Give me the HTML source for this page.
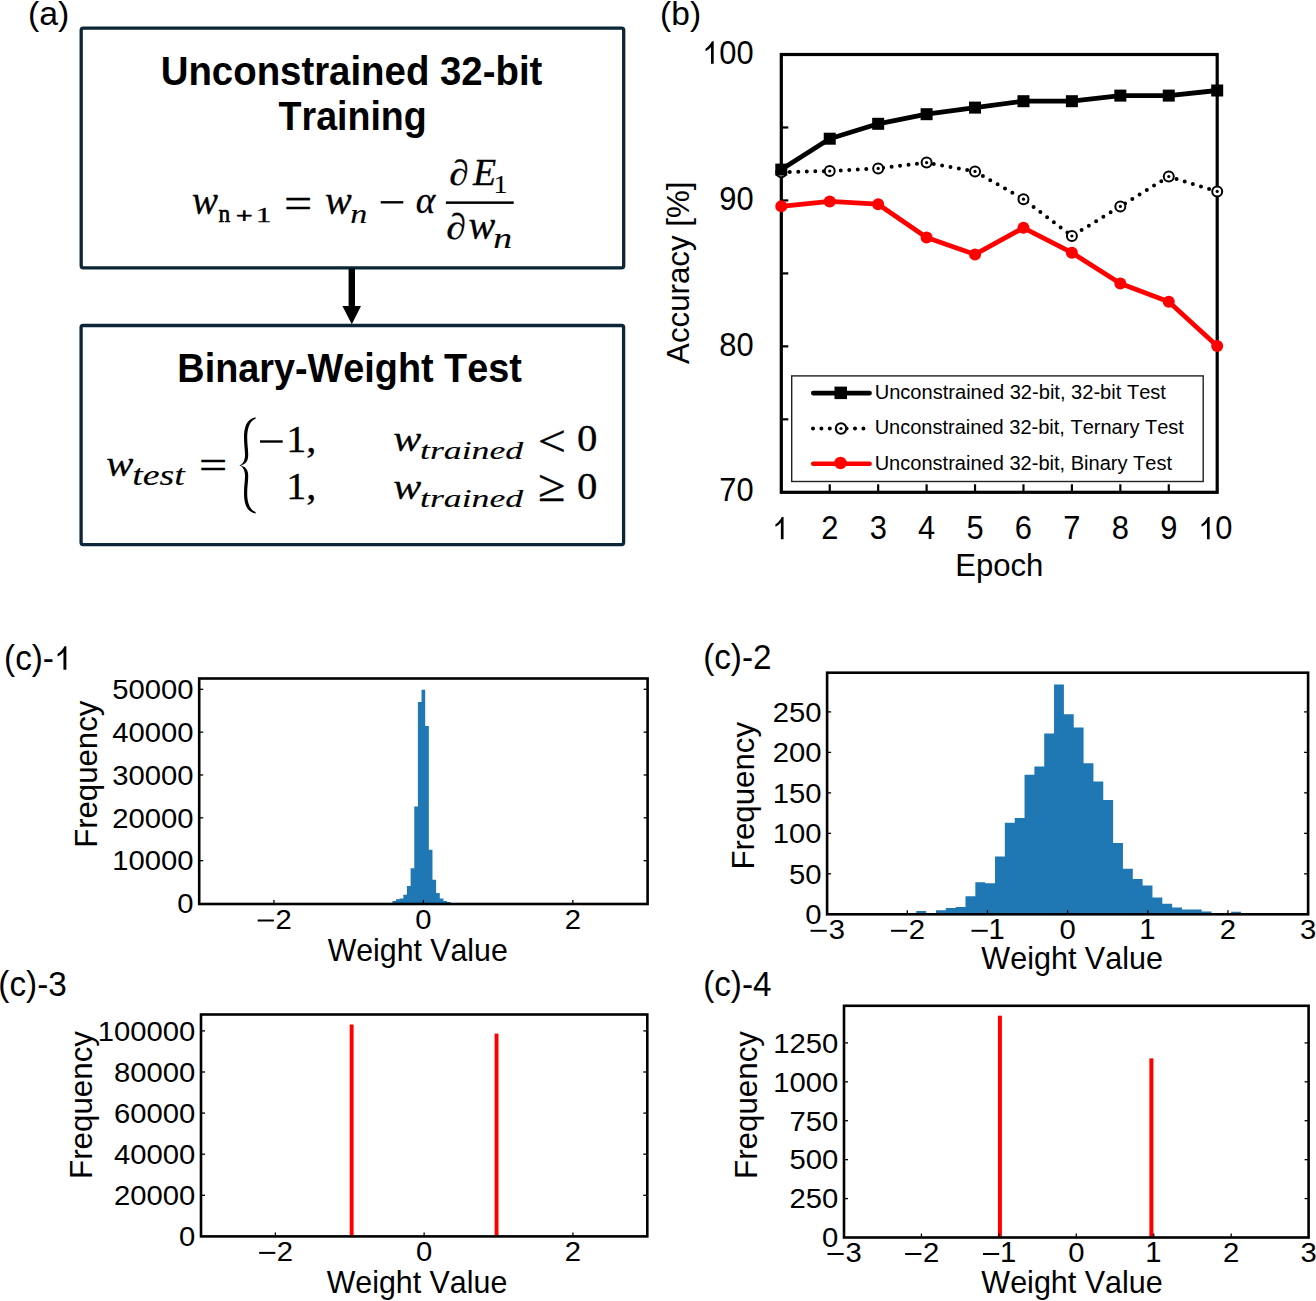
<!DOCTYPE html>
<html><head><meta charset="utf-8"><style>
html,body{margin:0;padding:0;background:#fff;}
body{width:1316px;height:1301px;overflow:hidden;}
svg{display:block;}
text{font-kerning:none;}
</style></head><body>
<svg width="1316" height="1301" viewBox="0 0 1316 1301">
<rect width="1316" height="1301" fill="#fff"/>
<text transform="matrix(0.9963 0 0 1.0000 27.90 25.10)" font-size="34.00" font-family='"Liberation Sans", sans-serif' fill="#000">(a)</text>
<rect x="81.2" y="28.2" width="542.5" height="239.6" rx="2" fill="none" stroke="#0b2636" stroke-width="3.3"/>
<text transform="matrix(0.9362 0 0 1.0000 160.69 85.00)" font-size="41.00" font-family='"Liberation Sans", sans-serif' font-weight="bold" fill="#000">Unconstrained 32-bit</text>
<text transform="matrix(0.9166 0 0 1.0000 278.58 129.80)" font-size="41.00" font-family='"Liberation Sans", sans-serif' font-weight="bold" fill="#000">Training</text>
<text transform="matrix(0.9752 0 0 0.9973 192.12 214.06)" font-size="40.00" font-family='"Liberation Serif", serif' font-style="italic" fill="#000" stroke="#000" stroke-width="0.30" stroke-linejoin="round">w</text>
<text transform="matrix(1.0628 0 0 1.1576 218.56 222.30)" font-size="22.00" font-family='"Liberation Serif", serif' fill="#000" stroke="#000" stroke-width="0.60" stroke-linejoin="round">n</text>
<text transform="matrix(1.3285 0 0 0.9563 235.94 223.09)" font-size="22.00" font-family='"Liberation Serif", serif' fill="#000" stroke="#000" stroke-width="0.80" stroke-linejoin="round">+</text>
<text transform="matrix(1.4332 0 0 0.9502 255.68 222.45)" font-size="22.00" font-family='"Liberation Serif", serif' fill="#000" stroke="#000" stroke-width="0.30" stroke-linejoin="round">1</text>
<text transform="matrix(1.2518 0 0 1.0300 284.06 216.88)" font-size="40.00" font-family='"Liberation Serif", serif' fill="#000" stroke="#000" stroke-width="0.30" stroke-linejoin="round">=</text>
<text transform="matrix(1.0028 0 0 0.9973 325.09 214.06)" font-size="40.00" font-family='"Liberation Serif", serif' font-style="italic" fill="#000" stroke="#000" stroke-width="0.30" stroke-linejoin="round">w</text>
<text transform="matrix(1.5479 0 0 1.2058 350.34 222.55)" font-size="22.00" font-family='"Liberation Serif", serif' font-style="italic" fill="#000" stroke="#000" stroke-width="0.10" stroke-linejoin="round">n</text>
<rect x="380.70" y="201.10" width="22.60" height="2.40" fill="#000"/>
<text transform="matrix(0.9331 0 0 0.9234 415.84 213.47)" font-size="40.00" font-family='"Liberation Serif", serif' font-style="italic" fill="#000" stroke="#000" stroke-width="0.30" stroke-linejoin="round">α</text>
<rect x="445.90" y="201.40" width="67.80" height="2.50" fill="#000"/>
<text transform="matrix(0.9823 0 0 0.8919 449.25 184.88)" font-size="40.00" font-family='"Liberation Serif", serif' font-style="italic" fill="#000" stroke="#000" stroke-width="0.30" stroke-linejoin="round">∂</text>
<text transform="matrix(0.9481 0 0 0.9507 472.99 184.75)" font-size="40.00" font-family='"Liberation Serif", serif' font-style="italic" fill="#000" stroke="#000" stroke-width="0.30" stroke-linejoin="round">E</text>
<text transform="matrix(1.2782 0 0 1.1499 493.58 192.55)" font-size="22.00" font-family='"Liberation Serif", serif' fill="#000" stroke="#000" stroke-width="0.10" stroke-linejoin="round">1</text>
<text transform="matrix(0.9942 0 0 0.9123 446.13 239.37)" font-size="40.00" font-family='"Liberation Serif", serif' font-style="italic" fill="#000" stroke="#000" stroke-width="0.30" stroke-linejoin="round">∂</text>
<text transform="matrix(1.0028 0 0 0.9760 468.39 239.47)" font-size="40.00" font-family='"Liberation Serif", serif' font-style="italic" fill="#000" stroke="#000" stroke-width="0.30" stroke-linejoin="round">w</text>
<text transform="matrix(1.7092 0 0 1.3409 493.21 248.15)" font-size="22.00" font-family='"Liberation Serif", serif' font-style="italic" fill="#000" stroke="#000" stroke-width="0.10" stroke-linejoin="round">n</text>
<rect x="348.60" y="268.50" width="6.40" height="39.00" fill="#000"/>
<polygon points="342.4,306.0 361.0,306.0 351.8,324.2" fill="#000"/>
<rect x="81.1" y="325.5" width="542.5" height="219.1" rx="2" fill="none" stroke="#0b2636" stroke-width="3.3"/>
<text transform="matrix(0.9457 0 0 1.0000 177.37 382.20)" font-size="40.00" font-family='"Liberation Sans", sans-serif' font-weight="bold" fill="#000">Binary-Weight Test</text>
<text transform="matrix(1.0185 0 0 0.9120 106.18 475.89)" font-size="40.00" font-family='"Liberation Serif", serif' font-style="italic" fill="#000" stroke="#000" stroke-width="0.30" stroke-linejoin="round">w</text>
<text transform="matrix(1.3556 0 0 1.0850 132.18 484.85)" font-size="28.00" font-family='"Liberation Serif", serif' font-style="italic" fill="#000" stroke="#000" stroke-width="0.10" stroke-linejoin="round">test</text>
<text transform="matrix(1.2518 0 0 1.0200 199.06 478.60)" font-size="40.00" font-family='"Liberation Serif", serif' fill="#000" stroke="#000" stroke-width="0.30" stroke-linejoin="round">=</text>
<path d="M255.60,417.20 C246.50,418.80 244.00,427.50 244.00,437.50 C244.00,447.50 245.80,453.50 244.60,458.80 C243.80,462.40 242.20,464.60 239.40,465.40 C242.20,466.20 243.80,468.40 244.60,472.00 C245.80,477.30 244.00,483.30 244.00,493.30 C244.00,503.30 246.50,512.00 255.60,513.60 L255.60,512.00 C249.60,509.80 247.20,502.30 247.20,493.30 C247.20,484.80 248.80,478.80 248.00,473.00 C247.40,468.60 244.40,466.20 240.80,465.40 C244.40,464.60 247.40,462.20 248.00,457.80 C248.80,452.00 247.20,446.00 247.20,437.50 C247.20,428.50 249.60,421.00 255.60,418.80 Z" fill="#000"/>
<rect x="260.00" y="440.30" width="22.70" height="2.40" fill="#000"/>
<text transform="matrix(1.1127 0 0 1.0306 286.33 452.14)" font-size="36.00" font-family='"Liberation Serif", serif' fill="#000" stroke="#000" stroke-width="0.30" stroke-linejoin="round">1,</text>
<text transform="matrix(1.1127 0 0 1.0306 286.33 499.34)" font-size="36.00" font-family='"Liberation Serif", serif' fill="#000" stroke="#000" stroke-width="0.30" stroke-linejoin="round">1,</text>
<text transform="matrix(1.0500 0 0 0.9173 393.15 451.49)" font-size="40.00" font-family='"Liberation Serif", serif' font-style="italic" fill="#000" stroke="#000" stroke-width="0.30" stroke-linejoin="round">w</text>
<text transform="matrix(1.2770 0 0 0.9232 419.98 459.48)" font-size="28.00" font-family='"Liberation Serif", serif' font-style="italic" fill="#000" stroke="#000" stroke-width="0.10" stroke-linejoin="round">trained</text>
<text transform="matrix(1.1338 0 0 1.0332 577.00 451.49)" font-size="36.00" font-family='"Liberation Serif", serif' fill="#000" stroke="#000" stroke-width="0.30" stroke-linejoin="round">0</text>
<text transform="matrix(1.0500 0 0 0.9173 393.15 498.69)" font-size="40.00" font-family='"Liberation Serif", serif' font-style="italic" fill="#000" stroke="#000" stroke-width="0.30" stroke-linejoin="round">w</text>
<text transform="matrix(1.2770 0 0 0.9232 419.98 506.68)" font-size="28.00" font-family='"Liberation Serif", serif' font-style="italic" fill="#000" stroke="#000" stroke-width="0.10" stroke-linejoin="round">trained</text>
<text transform="matrix(1.1338 0 0 1.0332 577.00 498.69)" font-size="36.00" font-family='"Liberation Serif", serif' fill="#000" stroke="#000" stroke-width="0.30" stroke-linejoin="round">0</text>
<text transform="matrix(1.3909 0 0 1.2495 537.66 455.94)" font-size="36.00" font-family='"Liberation Serif", serif' fill="#000" stroke="#000" stroke-width="0.30" stroke-linejoin="round">&lt;</text>
<text transform="matrix(1.3880 0 0 1.2599 538.10 500.85)" font-size="36.00" font-family='"Liberation Serif", serif' fill="#000" stroke="#000" stroke-width="0.30" stroke-linejoin="round">≥</text>
<text transform="matrix(1.0155 0 0 1.0000 660.12 25.10)" font-size="33.00" font-family='"Liberation Sans", sans-serif' fill="#000">(b)</text>
<line x1="781.30" y1="127.47" x2="788.30" y2="127.47" stroke="#000" stroke-width="2.20" />
<line x1="781.30" y1="200.43" x2="788.30" y2="200.43" stroke="#000" stroke-width="2.20" />
<line x1="781.30" y1="273.40" x2="788.30" y2="273.40" stroke="#000" stroke-width="2.20" />
<line x1="781.30" y1="346.37" x2="788.30" y2="346.37" stroke="#000" stroke-width="2.20" />
<line x1="781.30" y1="419.33" x2="788.30" y2="419.33" stroke="#000" stroke-width="2.20" />
<line x1="829.73" y1="492.30" x2="829.73" y2="484.30" stroke="#000" stroke-width="2.20" />
<line x1="878.17" y1="492.30" x2="878.17" y2="484.30" stroke="#000" stroke-width="2.20" />
<line x1="926.60" y1="492.30" x2="926.60" y2="484.30" stroke="#000" stroke-width="2.20" />
<line x1="975.03" y1="492.30" x2="975.03" y2="484.30" stroke="#000" stroke-width="2.20" />
<line x1="1023.47" y1="492.30" x2="1023.47" y2="484.30" stroke="#000" stroke-width="2.20" />
<line x1="1071.90" y1="492.30" x2="1071.90" y2="484.30" stroke="#000" stroke-width="2.20" />
<line x1="1120.33" y1="492.30" x2="1120.33" y2="484.30" stroke="#000" stroke-width="2.20" />
<line x1="1168.77" y1="492.30" x2="1168.77" y2="484.30" stroke="#000" stroke-width="2.20" />
<rect x="781.30" y="54.50" width="435.90" height="437.80" fill="none" stroke="#000" stroke-width="3.2"/>
<path d="M713.70,41.33 L713.70,63.69 L711.00,63.69 L711.00,46.92 C710.03,48.37 708.07,49.94 705.55,51.17 L705.55,48.60 C707.62,47.37 710.03,45.02 711.99,41.33 Z" fill="#000"/>
<text transform="matrix(0.9500 0 0 1.0000 702.19 63.69)" font-size="32.50" font-family='"Liberation Sans", sans-serif' fill="#000"> 00</text>
<text transform="matrix(0.9500 0 0 1.0000 719.36 209.62)" font-size="32.50" font-family='"Liberation Sans", sans-serif' fill="#000">90</text>
<text transform="matrix(0.9500 0 0 1.0000 719.36 355.55)" font-size="32.50" font-family='"Liberation Sans", sans-serif' fill="#000">80</text>
<text transform="matrix(0.9500 0 0 1.0000 719.36 501.49)" font-size="32.50" font-family='"Liberation Sans", sans-serif' fill="#000">70</text>
<path d="M783.57,516.94 L783.57,539.30 L780.87,539.30 L780.87,522.53 C779.91,523.98 777.95,525.55 775.43,526.78 L775.43,524.21 C777.49,522.98 779.91,520.63 781.87,516.94 Z" fill="#000"/>
<text transform="matrix(0.9500 0 0 1.0000 772.07 539.30)" font-size="32.50" font-family='"Liberation Sans", sans-serif' fill="#000"> </text>
<text transform="matrix(0.9500 0 0 1.0000 821.15 539.30)" font-size="32.50" font-family='"Liberation Sans", sans-serif' fill="#000">2</text>
<text transform="matrix(0.9500 0 0 1.0000 869.67 539.30)" font-size="32.50" font-family='"Liberation Sans", sans-serif' fill="#000">3</text>
<text transform="matrix(0.9500 0 0 1.0000 918.11 539.30)" font-size="32.50" font-family='"Liberation Sans", sans-serif' fill="#000">4</text>
<text transform="matrix(0.9500 0 0 1.0000 966.48 539.30)" font-size="32.50" font-family='"Liberation Sans", sans-serif' fill="#000">5</text>
<text transform="matrix(0.9500 0 0 1.0000 1014.78 539.30)" font-size="32.50" font-family='"Liberation Sans", sans-serif' fill="#000">6</text>
<text transform="matrix(0.9500 0 0 1.0000 1063.30 539.30)" font-size="32.50" font-family='"Liberation Sans", sans-serif' fill="#000">7</text>
<text transform="matrix(0.9500 0 0 1.0000 1111.75 539.30)" font-size="32.50" font-family='"Liberation Sans", sans-serif' fill="#000">8</text>
<text transform="matrix(0.9500 0 0 1.0000 1160.19 539.30)" font-size="32.50" font-family='"Liberation Sans", sans-serif' fill="#000">9</text>
<path d="M1209.65,516.94 L1209.65,539.30 L1206.96,539.30 L1206.96,522.53 C1205.99,523.98 1204.03,525.55 1201.51,526.78 L1201.51,524.21 C1203.58,522.98 1205.99,520.63 1207.95,516.94 Z" fill="#000"/>
<text transform="matrix(0.9500 0 0 1.0000 1198.15 539.30)" font-size="32.50" font-family='"Liberation Sans", sans-serif' fill="#000"> 0</text>
<text transform="matrix(1.0031 0 0 1.0000 955.25 576.40)" font-size="31.00" font-family='"Liberation Sans", sans-serif' fill="#000">Epoch</text>
<text transform="matrix(0 -0.9992 1.0000 0 689.00 363.96)" font-size="31.30" font-family='"Liberation Sans", sans-serif' fill="#000">Accuracy [%]</text>
<polyline points="781.30,172.20 829.73,171.00 878.17,168.40 926.60,162.60 975.03,171.40 1023.47,199.20 1071.90,236.00 1120.33,206.40 1168.77,176.50 1217.20,191.40" fill="none" stroke="#000" stroke-width="4.0" stroke-dasharray="0 8.5" stroke-linecap="round"/>
<polyline points="781.30,206.30 829.73,201.40 878.17,204.20 926.60,237.40 975.03,254.40 1023.47,227.80 1071.90,252.70 1120.33,283.50 1168.77,301.80 1217.20,345.90" fill="none" stroke="#ff0000" stroke-width="4.8" stroke-linejoin="round"/>
<polyline points="781.30,169.60 829.73,138.70 878.17,123.80 926.60,114.20 975.03,107.60 1023.47,101.20 1071.90,101.20 1120.33,95.60 1168.77,95.60 1217.20,90.50" fill="none" stroke="#000" stroke-width="4.8" stroke-linejoin="round"/>
<circle cx="781.30" cy="172.20" r="5.0" fill="#fff" stroke="#000" stroke-width="2"/>
<circle cx="781.30" cy="172.20" r="1.6" fill="#000"/>
<circle cx="829.73" cy="171.00" r="5.0" fill="#fff" stroke="#000" stroke-width="2"/>
<circle cx="829.73" cy="171.00" r="1.6" fill="#000"/>
<circle cx="878.17" cy="168.40" r="5.0" fill="#fff" stroke="#000" stroke-width="2"/>
<circle cx="878.17" cy="168.40" r="1.6" fill="#000"/>
<circle cx="926.60" cy="162.60" r="5.0" fill="#fff" stroke="#000" stroke-width="2"/>
<circle cx="926.60" cy="162.60" r="1.6" fill="#000"/>
<circle cx="975.03" cy="171.40" r="5.0" fill="#fff" stroke="#000" stroke-width="2"/>
<circle cx="975.03" cy="171.40" r="1.6" fill="#000"/>
<circle cx="1023.47" cy="199.20" r="5.0" fill="#fff" stroke="#000" stroke-width="2"/>
<circle cx="1023.47" cy="199.20" r="1.6" fill="#000"/>
<circle cx="1071.90" cy="236.00" r="5.0" fill="#fff" stroke="#000" stroke-width="2"/>
<circle cx="1071.90" cy="236.00" r="1.6" fill="#000"/>
<circle cx="1120.33" cy="206.40" r="5.0" fill="#fff" stroke="#000" stroke-width="2"/>
<circle cx="1120.33" cy="206.40" r="1.6" fill="#000"/>
<circle cx="1168.77" cy="176.50" r="5.0" fill="#fff" stroke="#000" stroke-width="2"/>
<circle cx="1168.77" cy="176.50" r="1.6" fill="#000"/>
<circle cx="1217.20" cy="191.40" r="5.0" fill="#fff" stroke="#000" stroke-width="2"/>
<circle cx="1217.20" cy="191.40" r="1.6" fill="#000"/>
<circle cx="781.30" cy="206.30" r="6.0" fill="#ff0000"/>
<circle cx="829.73" cy="201.40" r="6.0" fill="#ff0000"/>
<circle cx="878.17" cy="204.20" r="6.0" fill="#ff0000"/>
<circle cx="926.60" cy="237.40" r="6.0" fill="#ff0000"/>
<circle cx="975.03" cy="254.40" r="6.0" fill="#ff0000"/>
<circle cx="1023.47" cy="227.80" r="6.0" fill="#ff0000"/>
<circle cx="1071.90" cy="252.70" r="6.0" fill="#ff0000"/>
<circle cx="1120.33" cy="283.50" r="6.0" fill="#ff0000"/>
<circle cx="1168.77" cy="301.80" r="6.0" fill="#ff0000"/>
<circle cx="1217.20" cy="345.90" r="6.0" fill="#ff0000"/>
<rect x="775.30" y="163.60" width="12.00" height="12.00" fill="#000"/>
<rect x="823.73" y="132.70" width="12.00" height="12.00" fill="#000"/>
<rect x="872.17" y="117.80" width="12.00" height="12.00" fill="#000"/>
<rect x="920.60" y="108.20" width="12.00" height="12.00" fill="#000"/>
<rect x="969.03" y="101.60" width="12.00" height="12.00" fill="#000"/>
<rect x="1017.47" y="95.20" width="12.00" height="12.00" fill="#000"/>
<rect x="1065.90" y="95.20" width="12.00" height="12.00" fill="#000"/>
<rect x="1114.33" y="89.60" width="12.00" height="12.00" fill="#000"/>
<rect x="1162.77" y="89.60" width="12.00" height="12.00" fill="#000"/>
<rect x="1211.20" y="84.50" width="12.00" height="12.00" fill="#000"/>
<rect x="791.7" y="375.9" width="411.5" height="105.6" fill="#fff" stroke="#222" stroke-width="1.4"/>
<line x1="813.20" y1="393.10" x2="869.60" y2="393.10" stroke="#000" stroke-width="4.60" stroke-linecap="round"/>
<rect x="834.50" y="386.60" width="12.50" height="12.50" fill="#000"/>
<line x1="813" y1="428.5" x2="871" y2="428.5" stroke="#000" stroke-width="4.0" stroke-dasharray="0 8.4" stroke-linecap="round"/>
<circle cx="841" cy="428.5" r="5.2" fill="#fff" stroke="#000" stroke-width="2"/><circle cx="841" cy="428.5" r="1.6" fill="#000"/>
<line x1="813.20" y1="463.70" x2="869.60" y2="463.70" stroke="#ff0000" stroke-width="4.60" stroke-linecap="round"/>
<circle cx="840.5" cy="463.0" r="6.2" fill="#ff0000"/>
<text transform="matrix(1.0047 0 0 1.0000 874.65 399.30)" font-size="20.00" font-family='"Liberation Sans", sans-serif' fill="#000">Unconstrained 32-bit, 32-bit Test</text>
<text transform="matrix(1.0015 0 0 1.0000 874.65 434.40)" font-size="20.00" font-family='"Liberation Sans", sans-serif' fill="#000">Unconstrained 32-bit, Ternary Test</text>
<text transform="matrix(1.0023 0 0 1.0000 874.65 469.50)" font-size="20.00" font-family='"Liberation Sans", sans-serif' fill="#000">Unconstrained 32-bit, Binary Test</text>
<path d="M66.36,646.13 L66.36,669.80 L63.45,669.80 L63.45,652.05 C62.41,653.59 60.29,655.24 57.58,656.55 L57.58,653.82 C59.80,652.52 62.41,650.04 64.52,646.13 Z" fill="#000"/>
<text transform="matrix(0.9680 0 0 1.0000 4.04 669.80)" font-size="34.40" font-family='"Liberation Sans", sans-serif' fill="#000">(c)- </text>
<path d="M392.40,904.00 L392.40,901.00 L396.04,901.00 L396.04,899.20 L399.69,899.20 L399.69,898.40 L403.33,898.40 L403.33,894.80 L406.97,894.80 L406.97,886.00 L410.62,886.00 L410.62,868.30 L414.26,868.30 L414.26,806.40 L417.91,806.40 L417.91,702.10 L421.55,702.10 L421.55,689.70 L425.19,689.70 L425.19,726.00 L428.84,726.00 L428.84,849.70 L432.48,849.70 L432.48,879.80 L436.12,879.80 L436.12,893.00 L439.77,893.00 L439.77,898.40 L443.41,898.40 L443.41,901.00 L447.06,901.00 L447.06,901.90 L450.70,901.90 L450.70,904.00 Z" fill="#1f77b4"/>
<line x1="273.93" y1="904.00" x2="273.93" y2="900.00" stroke="#000" stroke-width="1.30" />
<line x1="423.40" y1="904.00" x2="423.40" y2="900.00" stroke="#000" stroke-width="1.30" />
<line x1="572.87" y1="904.00" x2="572.87" y2="900.00" stroke="#000" stroke-width="1.30" />
<line x1="199.20" y1="860.66" x2="203.20" y2="860.66" stroke="#000" stroke-width="1.30" />
<line x1="647.60" y1="860.66" x2="643.60" y2="860.66" stroke="#000" stroke-width="1.30" />
<line x1="199.20" y1="817.82" x2="203.20" y2="817.82" stroke="#000" stroke-width="1.30" />
<line x1="647.60" y1="817.82" x2="643.60" y2="817.82" stroke="#000" stroke-width="1.30" />
<line x1="199.20" y1="774.98" x2="203.20" y2="774.98" stroke="#000" stroke-width="1.30" />
<line x1="647.60" y1="774.98" x2="643.60" y2="774.98" stroke="#000" stroke-width="1.30" />
<line x1="199.20" y1="732.14" x2="203.20" y2="732.14" stroke="#000" stroke-width="1.30" />
<line x1="647.60" y1="732.14" x2="643.60" y2="732.14" stroke="#000" stroke-width="1.30" />
<line x1="199.20" y1="689.30" x2="203.20" y2="689.30" stroke="#000" stroke-width="1.30" />
<line x1="647.60" y1="689.30" x2="643.60" y2="689.30" stroke="#000" stroke-width="1.30" />
<rect x="199.20" y="678.50" width="448.40" height="225.50" fill="none" stroke="#000" stroke-width="2.60"/>
<text transform="matrix(1.0300 0 0 1.0000 177.27 913.28)" font-size="28.40" font-family='"Liberation Sans", sans-serif' fill="#000">0</text>
<text transform="matrix(1.0300 0 0 1.0000 112.20 870.44)" font-size="28.40" font-family='"Liberation Sans", sans-serif' fill="#000">10000</text>
<text transform="matrix(1.0300 0 0 1.0000 112.20 827.60)" font-size="28.40" font-family='"Liberation Sans", sans-serif' fill="#000">20000</text>
<text transform="matrix(1.0300 0 0 1.0000 112.20 784.76)" font-size="28.40" font-family='"Liberation Sans", sans-serif' fill="#000">30000</text>
<text transform="matrix(1.0300 0 0 1.0000 112.20 741.92)" font-size="28.40" font-family='"Liberation Sans", sans-serif' fill="#000">40000</text>
<text transform="matrix(1.0300 0 0 1.0000 112.20 699.08)" font-size="28.40" font-family='"Liberation Sans", sans-serif' fill="#000">50000</text>
<rect x="257.67" y="919.50" width="16.20" height="2.00" fill="#000"/>
<text transform="matrix(1.0300 0 0 0.9985 275.40 928.90)" font-size="28.40" font-family='"Liberation Sans", sans-serif' fill="#000">2</text>
<text transform="matrix(1.0300 0 0 0.9847 415.27 928.63)" font-size="28.40" font-family='"Liberation Sans", sans-serif' fill="#000">0</text>
<text transform="matrix(1.0300 0 0 0.9985 564.73 928.90)" font-size="28.40" font-family='"Liberation Sans", sans-serif' fill="#000">2</text>
<text transform="matrix(0.9467 0 0 1.0000 327.67 960.80)" font-size="32.00" font-family='"Liberation Sans", sans-serif' fill="#000">Weight Value</text>
<text transform="matrix(0 -1.0216 1.0000 0 96.90 847.86)" font-size="30.50" font-family='"Liberation Sans", sans-serif' fill="#000">Frequency</text>
<text transform="matrix(0.9680 0 0 1.0000 703.14 668.90)" font-size="34.40" font-family='"Liberation Sans", sans-serif' fill="#000">(c)-2</text>
<path d="M916.30,914.30 L916.30,911.10 L926.14,911.10 L926.14,914.00 L935.98,914.00 L935.98,910.20 L945.82,910.20 L945.82,907.90 L955.66,907.90 L955.66,906.90 L965.50,906.90 L965.50,896.30 L975.34,896.30 L975.34,882.30 L985.18,882.30 L985.18,883.30 L995.02,883.30 L995.02,856.40 L1004.86,856.40 L1004.86,822.80 L1014.70,822.80 L1014.70,818.00 L1024.54,818.00 L1024.54,774.70 L1034.38,774.70 L1034.38,766.60 L1044.22,766.60 L1044.22,733.40 L1054.06,733.40 L1054.06,684.40 L1063.90,684.40 L1063.90,714.20 L1073.74,714.20 L1073.74,727.60 L1083.58,727.60 L1083.58,763.20 L1093.42,763.20 L1093.42,781.40 L1103.26,781.40 L1103.26,800.10 L1113.10,800.10 L1113.10,842.90 L1122.94,842.90 L1122.94,868.70 L1132.78,868.70 L1132.78,878.90 L1142.62,878.90 L1142.62,885.40 L1152.46,885.40 L1152.46,897.40 L1162.30,897.40 L1162.30,903.70 L1172.14,903.70 L1172.14,907.60 L1181.98,907.60 L1181.98,909.40 L1191.82,909.40 L1191.82,909.40 L1201.66,909.40 L1201.66,911.50 L1211.50,911.50 L1211.50,914.30 L1221.34,914.30 L1221.34,914.30 L1231.18,914.30 L1231.18,911.80 L1241.02,911.80 L1241.02,914.30 Z" fill="#1f77b4"/>
<line x1="907.27" y1="914.30" x2="907.27" y2="910.30" stroke="#000" stroke-width="1.30" />
<line x1="987.43" y1="914.30" x2="987.43" y2="910.30" stroke="#000" stroke-width="1.30" />
<line x1="1067.60" y1="914.30" x2="1067.60" y2="910.30" stroke="#000" stroke-width="1.30" />
<line x1="1147.77" y1="914.30" x2="1147.77" y2="910.30" stroke="#000" stroke-width="1.30" />
<line x1="1227.93" y1="914.30" x2="1227.93" y2="910.30" stroke="#000" stroke-width="1.30" />
<line x1="827.10" y1="873.82" x2="831.10" y2="873.82" stroke="#000" stroke-width="1.30" />
<line x1="1308.10" y1="873.82" x2="1304.10" y2="873.82" stroke="#000" stroke-width="1.30" />
<line x1="827.10" y1="833.34" x2="831.10" y2="833.34" stroke="#000" stroke-width="1.30" />
<line x1="1308.10" y1="833.34" x2="1304.10" y2="833.34" stroke="#000" stroke-width="1.30" />
<line x1="827.10" y1="792.86" x2="831.10" y2="792.86" stroke="#000" stroke-width="1.30" />
<line x1="1308.10" y1="792.86" x2="1304.10" y2="792.86" stroke="#000" stroke-width="1.30" />
<line x1="827.10" y1="752.38" x2="831.10" y2="752.38" stroke="#000" stroke-width="1.30" />
<line x1="1308.10" y1="752.38" x2="1304.10" y2="752.38" stroke="#000" stroke-width="1.30" />
<line x1="827.10" y1="711.90" x2="831.10" y2="711.90" stroke="#000" stroke-width="1.30" />
<line x1="1308.10" y1="711.90" x2="1304.10" y2="711.90" stroke="#000" stroke-width="1.30" />
<rect x="827.10" y="672.70" width="481.00" height="241.60" fill="none" stroke="#000" stroke-width="2.60"/>
<text transform="matrix(1.0300 0 0 1.0000 805.17 924.08)" font-size="28.40" font-family='"Liberation Sans", sans-serif' fill="#000">0</text>
<text transform="matrix(1.0300 0 0 1.0000 788.91 883.60)" font-size="28.40" font-family='"Liberation Sans", sans-serif' fill="#000">50</text>
<text transform="matrix(1.0300 0 0 1.0000 772.64 843.12)" font-size="28.40" font-family='"Liberation Sans", sans-serif' fill="#000">100</text>
<text transform="matrix(1.0300 0 0 1.0000 772.64 802.64)" font-size="28.40" font-family='"Liberation Sans", sans-serif' fill="#000">150</text>
<text transform="matrix(1.0300 0 0 1.0000 772.64 762.16)" font-size="28.40" font-family='"Liberation Sans", sans-serif' fill="#000">200</text>
<text transform="matrix(1.0300 0 0 1.0000 772.64 721.68)" font-size="28.40" font-family='"Liberation Sans", sans-serif' fill="#000">250</text>
<rect x="810.57" y="929.80" width="16.20" height="2.00" fill="#000"/>
<text transform="matrix(1.0300 0 0 0.9847 828.65 938.93)" font-size="28.40" font-family='"Liberation Sans", sans-serif' fill="#000">3</text>
<rect x="891.00" y="929.80" width="16.20" height="2.00" fill="#000"/>
<text transform="matrix(1.0300 0 0 0.9985 908.73 939.20)" font-size="28.40" font-family='"Liberation Sans", sans-serif' fill="#000">2</text>
<rect x="971.53" y="929.80" width="16.20" height="2.00" fill="#000"/>
<text transform="matrix(1.0300 0 0 1.0134 988.50 939.20)" font-size="28.40" font-family='"Liberation Sans", sans-serif' fill="#000">1</text>
<text transform="matrix(1.0300 0 0 0.9847 1059.47 938.93)" font-size="28.40" font-family='"Liberation Sans", sans-serif' fill="#000">0</text>
<text transform="matrix(1.0300 0 0 1.0134 1139.23 939.20)" font-size="28.40" font-family='"Liberation Sans", sans-serif' fill="#000">1</text>
<text transform="matrix(1.0300 0 0 0.9985 1219.80 939.20)" font-size="28.40" font-family='"Liberation Sans", sans-serif' fill="#000">2</text>
<text transform="matrix(1.0300 0 0 0.9847 1300.05 938.93)" font-size="28.40" font-family='"Liberation Sans", sans-serif' fill="#000">3</text>
<text transform="matrix(0.9541 0 0 1.0000 981.37 969.10)" font-size="32.00" font-family='"Liberation Sans", sans-serif' fill="#000">Weight Value</text>
<text transform="matrix(0 -1.0237 1.0000 0 753.80 869.46)" font-size="30.50" font-family='"Liberation Sans", sans-serif' fill="#000">Frequency</text>
<text transform="matrix(0.9680 0 0 1.0000 -1.67 996.30)" font-size="34.40" font-family='"Liberation Sans", sans-serif' fill="#000">(c)-3</text>
<rect x="349.70" y="1024.50" width="3.90" height="211.90" fill="#ff0000"/>
<rect x="494.60" y="1033.60" width="3.90" height="202.80" fill="#ff0000"/>
<line x1="275.38" y1="1236.40" x2="275.38" y2="1232.40" stroke="#000" stroke-width="1.30" />
<line x1="424.15" y1="1236.40" x2="424.15" y2="1232.40" stroke="#000" stroke-width="1.30" />
<line x1="572.92" y1="1236.40" x2="572.92" y2="1232.40" stroke="#000" stroke-width="1.30" />
<line x1="201.00" y1="1195.30" x2="205.00" y2="1195.30" stroke="#000" stroke-width="1.30" />
<line x1="647.30" y1="1195.30" x2="643.30" y2="1195.30" stroke="#000" stroke-width="1.30" />
<line x1="201.00" y1="1154.20" x2="205.00" y2="1154.20" stroke="#000" stroke-width="1.30" />
<line x1="647.30" y1="1154.20" x2="643.30" y2="1154.20" stroke="#000" stroke-width="1.30" />
<line x1="201.00" y1="1113.10" x2="205.00" y2="1113.10" stroke="#000" stroke-width="1.30" />
<line x1="647.30" y1="1113.10" x2="643.30" y2="1113.10" stroke="#000" stroke-width="1.30" />
<line x1="201.00" y1="1072.00" x2="205.00" y2="1072.00" stroke="#000" stroke-width="1.30" />
<line x1="647.30" y1="1072.00" x2="643.30" y2="1072.00" stroke="#000" stroke-width="1.30" />
<line x1="201.00" y1="1030.90" x2="205.00" y2="1030.90" stroke="#000" stroke-width="1.30" />
<line x1="647.30" y1="1030.90" x2="643.30" y2="1030.90" stroke="#000" stroke-width="1.30" />
<rect x="201.00" y="1014.50" width="446.30" height="221.90" fill="none" stroke="#000" stroke-width="2.60"/>
<text transform="matrix(1.0300 0 0 1.0000 179.07 1246.18)" font-size="28.40" font-family='"Liberation Sans", sans-serif' fill="#000">0</text>
<text transform="matrix(1.0300 0 0 1.0000 114.00 1205.08)" font-size="28.40" font-family='"Liberation Sans", sans-serif' fill="#000">20000</text>
<text transform="matrix(1.0300 0 0 1.0000 114.00 1163.98)" font-size="28.40" font-family='"Liberation Sans", sans-serif' fill="#000">40000</text>
<text transform="matrix(1.0300 0 0 1.0000 114.00 1122.88)" font-size="28.40" font-family='"Liberation Sans", sans-serif' fill="#000">60000</text>
<text transform="matrix(1.0300 0 0 1.0000 114.00 1081.78)" font-size="28.40" font-family='"Liberation Sans", sans-serif' fill="#000">80000</text>
<text transform="matrix(1.0300 0 0 1.0000 97.73 1040.68)" font-size="28.40" font-family='"Liberation Sans", sans-serif' fill="#000">100000</text>
<rect x="259.12" y="1251.90" width="16.20" height="2.00" fill="#000"/>
<text transform="matrix(1.0300 0 0 0.9985 276.85 1261.30)" font-size="28.40" font-family='"Liberation Sans", sans-serif' fill="#000">2</text>
<text transform="matrix(1.0300 0 0 0.9847 416.02 1261.03)" font-size="28.40" font-family='"Liberation Sans", sans-serif' fill="#000">0</text>
<text transform="matrix(1.0300 0 0 0.9985 564.78 1261.30)" font-size="28.40" font-family='"Liberation Sans", sans-serif' fill="#000">2</text>
<text transform="matrix(0.9493 0 0 1.0000 326.67 1293.40)" font-size="32.00" font-family='"Liberation Sans", sans-serif' fill="#000">Weight Value</text>
<text transform="matrix(0 -1.0273 1.0000 0 91.90 1178.97)" font-size="30.50" font-family='"Liberation Sans", sans-serif' fill="#000">Frequency</text>
<text transform="matrix(0.9680 0 0 1.0000 703.14 995.70)" font-size="34.40" font-family='"Liberation Sans", sans-serif' fill="#000">(c)-4</text>
<rect x="997.90" y="1015.70" width="4.00" height="221.80" fill="#ff0000"/>
<rect x="1149.40" y="1058.40" width="4.00" height="179.10" fill="#ff0000"/>
<line x1="921.43" y1="1237.50" x2="921.43" y2="1233.50" stroke="#000" stroke-width="1.30" />
<line x1="998.87" y1="1237.50" x2="998.87" y2="1233.50" stroke="#000" stroke-width="1.30" />
<line x1="1076.30" y1="1237.50" x2="1076.30" y2="1233.50" stroke="#000" stroke-width="1.30" />
<line x1="1153.73" y1="1237.50" x2="1153.73" y2="1233.50" stroke="#000" stroke-width="1.30" />
<line x1="1231.17" y1="1237.50" x2="1231.17" y2="1233.50" stroke="#000" stroke-width="1.30" />
<line x1="844.00" y1="1198.58" x2="848.00" y2="1198.58" stroke="#000" stroke-width="1.30" />
<line x1="1308.60" y1="1198.58" x2="1304.60" y2="1198.58" stroke="#000" stroke-width="1.30" />
<line x1="844.00" y1="1159.66" x2="848.00" y2="1159.66" stroke="#000" stroke-width="1.30" />
<line x1="1308.60" y1="1159.66" x2="1304.60" y2="1159.66" stroke="#000" stroke-width="1.30" />
<line x1="844.00" y1="1120.74" x2="848.00" y2="1120.74" stroke="#000" stroke-width="1.30" />
<line x1="1308.60" y1="1120.74" x2="1304.60" y2="1120.74" stroke="#000" stroke-width="1.30" />
<line x1="844.00" y1="1081.82" x2="848.00" y2="1081.82" stroke="#000" stroke-width="1.30" />
<line x1="1308.60" y1="1081.82" x2="1304.60" y2="1081.82" stroke="#000" stroke-width="1.30" />
<line x1="844.00" y1="1042.90" x2="848.00" y2="1042.90" stroke="#000" stroke-width="1.30" />
<line x1="1308.60" y1="1042.90" x2="1304.60" y2="1042.90" stroke="#000" stroke-width="1.30" />
<rect x="844.00" y="1005.80" width="464.60" height="231.70" fill="none" stroke="#000" stroke-width="2.60"/>
<text transform="matrix(1.0300 0 0 1.0000 822.07 1247.28)" font-size="28.40" font-family='"Liberation Sans", sans-serif' fill="#000">0</text>
<text transform="matrix(1.0300 0 0 1.0000 789.54 1208.36)" font-size="28.40" font-family='"Liberation Sans", sans-serif' fill="#000">250</text>
<text transform="matrix(1.0300 0 0 1.0000 789.54 1169.44)" font-size="28.40" font-family='"Liberation Sans", sans-serif' fill="#000">500</text>
<text transform="matrix(1.0300 0 0 1.0000 789.54 1130.52)" font-size="28.40" font-family='"Liberation Sans", sans-serif' fill="#000">750</text>
<text transform="matrix(1.0300 0 0 1.0000 773.27 1091.60)" font-size="28.40" font-family='"Liberation Sans", sans-serif' fill="#000">1000</text>
<text transform="matrix(1.0300 0 0 1.0000 773.27 1052.68)" font-size="28.40" font-family='"Liberation Sans", sans-serif' fill="#000">1250</text>
<rect x="827.47" y="1253.00" width="16.20" height="2.00" fill="#000"/>
<text transform="matrix(1.0300 0 0 0.9847 845.55 1262.13)" font-size="28.40" font-family='"Liberation Sans", sans-serif' fill="#000">3</text>
<rect x="905.17" y="1253.00" width="16.20" height="2.00" fill="#000"/>
<text transform="matrix(1.0300 0 0 0.9985 922.90 1262.40)" font-size="28.40" font-family='"Liberation Sans", sans-serif' fill="#000">2</text>
<rect x="982.96" y="1253.00" width="16.20" height="2.00" fill="#000"/>
<text transform="matrix(1.0300 0 0 1.0134 999.93 1262.40)" font-size="28.40" font-family='"Liberation Sans", sans-serif' fill="#000">1</text>
<text transform="matrix(1.0300 0 0 0.9847 1068.17 1262.13)" font-size="28.40" font-family='"Liberation Sans", sans-serif' fill="#000">0</text>
<text transform="matrix(1.0300 0 0 1.0134 1145.20 1262.40)" font-size="28.40" font-family='"Liberation Sans", sans-serif' fill="#000">1</text>
<text transform="matrix(1.0300 0 0 0.9985 1223.03 1262.40)" font-size="28.40" font-family='"Liberation Sans", sans-serif' fill="#000">2</text>
<text transform="matrix(1.0300 0 0 0.9847 1300.55 1262.13)" font-size="28.40" font-family='"Liberation Sans", sans-serif' fill="#000">3</text>
<text transform="matrix(0.9536 0 0 1.0000 981.37 1293.40)" font-size="32.00" font-family='"Liberation Sans", sans-serif' fill="#000">Weight Value</text>
<text transform="matrix(0 -1.0273 1.0000 0 757.20 1178.97)" font-size="30.50" font-family='"Liberation Sans", sans-serif' fill="#000">Frequency</text>
</svg></body></html>
